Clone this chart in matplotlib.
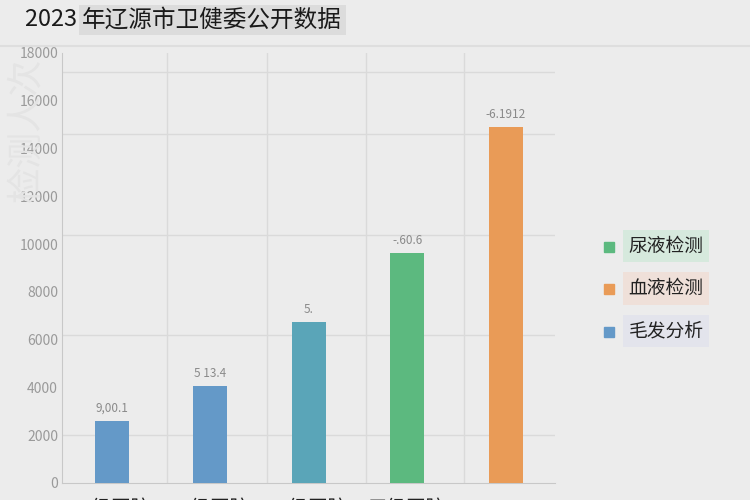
import matplotlib.pyplot as plt
from matplotlib.patches import Rectangle

plt.rcParams['font.family'] = ['Noto Sans CJK SC', 'DejaVu Sans']

# Data
hospitals = ["一级医院", "一级医院", "二级医院", "三级医院", ""]
values = [2600, 4060, 6740, 9620, 14900]
value_labels = ["9,00.1", "5 13.4", "5.", "-.60.6", "-6.1912"]
bar_colors = ["#6499c8", "#6499c8", "#5aa5b8", "#5cb97f", "#e99b57"]
yticks = [0, 2000, 4000, 6000, 8000, 10000, 12000, 14000, 16000, 18000]
legend_names = ["尿液检测", "血液检测", "毛发分析"]
legend_colors = ["#5cb97f", "#e99b57", "#6499c8"]
legend_bg = ["#d6e9dd", "#efe0d9", "#e3e4ec"]

bg = "#ececec"
fig = plt.figure(figsize=(7.5, 5), dpi=100, facecolor=bg)
ax = fig.add_axes([0.083, 0.034, 0.657, 0.86], facecolor=bg)

x = range(len(values))
ax.bar(x, values, width=0.345, color=bar_colors, zorder=3)
for i, v in enumerate(values):
    ax.text(i, v + 250, value_labels[i], ha="center", va="bottom",
            fontsize=8.5, color="#8a8a8a", zorder=4)

# Light grid, a bit uneven as in the picture
for gy in [2000, 6200, 10400, 14600, 17200]:
    ax.axhline(gy, color="#dadada", lw=1, zorder=1)
for gx in [0.56, 1.58, 2.58, 3.58]:
    ax.axvline(gx, color="#dadada", lw=1, zorder=1)

ax.set_xlim(-0.5, 4.5)
ax.set_ylim(0, 18000)
ax.set_yticks(yticks)
ax.set_yticklabels([str(t) for t in yticks], fontsize=10, color="#9a9a9a")
ax.set_xticks(list(x))
ax.set_xticklabels(hospitals, fontsize=14, color="#222222")
ax.tick_params(length=0)
ax.tick_params(axis="x", pad=10.5)
ax.tick_params(axis="y", pad=3)
for side in ["top", "right"]:
    ax.spines[side].set_visible(False)
for side in ["left", "bottom"]:
    ax.spines[side].set_color("#c8c8c8")

# faint ghost axis label
fig.text(0.035, 0.74, "检测人次", rotation=90, fontsize=26, color="#e4e4e4",
         ha="center", va="center", zorder=0)

# Title
t1 = fig.text(0.033, 0.96, "2023 ", fontsize=17, color="#1a1a1a", va="center")
ax.annotate("年辽源市卫健委公开数据", xy=(1, 0.5), xycoords=t1, va="center",
            fontsize=17, color="#1a1a1a",
            bbox=dict(boxstyle="square,pad=0.15", fc="#dcdcdc", ec="none"),
            annotation_clip=False)
fig.add_artist(plt.Line2D([0, 1], [0.908, 0.908], color="#dedede", lw=1.5))

# Legend built by hand
for i, name in enumerate(legend_names):
    yy = 0.508 - i * 0.085
    fig.patches.append(Rectangle((0.805, yy - 0.011), 0.013, 0.02,
                                 transform=fig.transFigure, color=legend_colors[i]))
    fig.text(0.838, yy, name, fontsize=13.5, color="#222222", va="center",
             bbox=dict(boxstyle="square,pad=0.3", fc=legend_bg[i], ec="none"))

fig.savefig("out.png", dpi=100, facecolor=bg)
